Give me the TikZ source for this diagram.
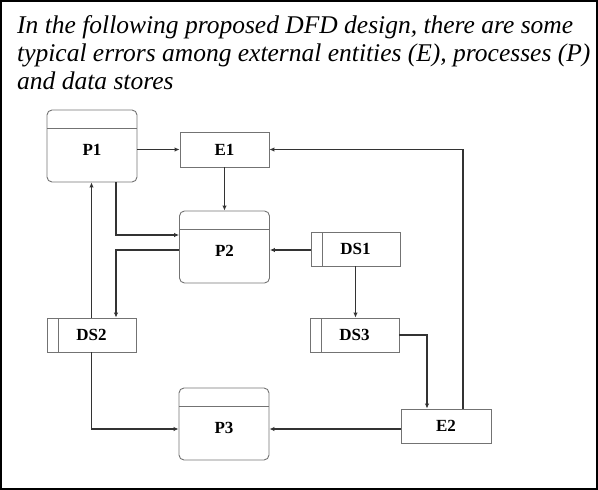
\documentclass[tikz,border=0pt]{standalone}
\usepackage{fontspec}
\setmainfont{Liberation Serif}
\usetikzlibrary{arrows.meta}

\begin{document}
\begin{tikzpicture} [x=1pt, y=-1pt,
		proc/.style = {draw=black!55, line width=0.9pt, rounded corners=5pt, minimum width=90pt, minimum height=72pt, font=\fontsize{17}{18}\selectfont\bfseries, text height=19pt, text depth=0pt,
			path picture={\draw[black!55, line width=0.9pt] ([yshift=-18pt]path picture bounding box.north west) -- ([yshift=-18pt]path picture bounding box.north east);}},
		ent/.style = {draw=black!55, line width=0.9pt, minimum width=89pt, minimum height=35pt, font=\fontsize{17}{18}\selectfont\bfseries},
		store/.style = {draw=black!55, line width=0.9pt, minimum width=89pt, minimum height=34pt, font=\fontsize{17}{18}\selectfont\bfseries,
			path picture={\draw[black!55, line width=0.9pt] ([xshift=11pt]path picture bounding box.north west) -- ([xshift=11pt]path picture bounding box.south west);}},
		flow/.style = {draw=black!80, line width=1.3pt, -{Latex[length=5pt,width=4.5pt]}}]
		\draw[line width=2pt] (1,1) rectangle (597,489);
		\useasboundingbox (0,0) rectangle (598,490);
		\node[anchor=north west, align=left, font=\fontsize{25.5}{28}\selectfont\itshape, inner sep=0pt] (title) at (17,15)
			{In the following proposed DFD design, there are some\\typical errors among external entities (E), processes (P)\\and data stores};
		\node[proc] (P1) at (92,146) {P1};
		\node[proc] (P2) at (224.5,247) {P2};
		\node[proc] (P3) at (224,424) {P3};
		\node[ent] (E1) at (224.5,149.5) {E1};
		\node[ent, minimum width=90pt, minimum height=34pt] (E2) at (446,426) {E2};
		\node[store] (DS1) at (355.5,249) {DS1};
		\node[store] (DS2) at (91.5,335) {DS2};
		\node[store] (DS3) at (354.5,335) {DS3};
		\draw[flow] (P1.east |- E1.west) -- (E1.west);
		\draw[flow] ([xshift=17pt]E2.north) |- (E1.east);
		\draw[flow] (E1.south) -- (P2.north);
		\draw[flow] ([xshift=24pt]P1.south) |- ([yshift=12pt]P2.west);
		\draw[flow] ([yshift=-3pt]P2.west) -| ([xshift=24.5pt]DS2.north);
		\draw[flow] (DS2.north) -- (DS2.north |- P1.south);
		\draw[flow] ([yshift=-1pt]DS1.west) -- ([yshift=-1pt]DS1.west -| P2.east);
		\draw[flow] (DS1.south) -- (DS1.south |- DS3.north);
		\draw[flow] (DS3.east) -| ([xshift=-19pt]E2.north);
		\draw[flow] ([yshift=-3pt]E2.west) -- ([yshift=-3pt]E2.west -| P3.east);
		\draw[flow] (DS2.south) |- ([yshift=-5pt]P3.west);
	\end{tikzpicture}
\end{document}
